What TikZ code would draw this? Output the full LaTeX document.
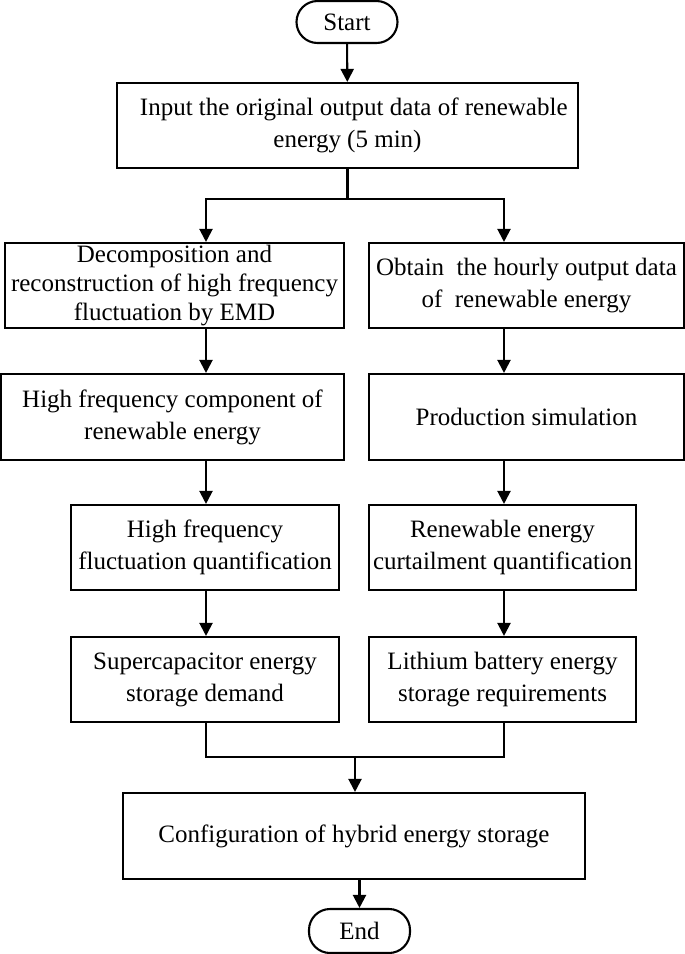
\documentclass[tikz,border=0pt]{standalone}
\usepackage{fontspec}
\setmainfont{Liberation Serif}
\usetikzlibrary{arrows.meta, positioning, calc}

\begin{document}
\begin{tikzpicture}[x=1pt, y=-1pt,
    box/.style={rectangle, draw=black, line width=2.1pt, fill=white, inner sep=0pt,
                align=center, font=\fontsize{25}{32}\selectfont},
    term/.style={box, rounded corners=21pt, minimum width=101pt, minimum height=42pt},
    arrow/.style={-{Triangle[length=13pt,width=13pt]}, line width=2.1pt},
    line/.style={line width=2.1pt}
]
    \useasboundingbox (0,0) rectangle (685,954);

    % Start and input
    \node[term] (start) at (347,22) {Start};
    \node[box, minimum width=461pt, minimum height=85pt] (input) at (347.5,125.5)
        {\ \ Input the original output data of renewable\\energy (5 min)};

    % Left branch
    \node[box, minimum width=339pt, minimum height=85pt, font=\fontsize{25}{29}\selectfont]
        (decomp) at (174.5,285.5)
        {Decomposition and\\reconstruction of high frequency\\fluctuation by EMD};
    \node[box, minimum width=343pt, minimum height=86pt] (hfcomp) at (172.5,417)
        {High frequency component of\\renewable energy};
    \node[box, minimum width=268pt, minimum height=85pt] (hfquant) at (205,547.5)
        {High frequency\\fluctuation quantification};
    \node[box, minimum width=268pt, minimum height=85pt] (supercap) at (205,679.5)
        {Supercapacitor energy\\storage demand};

    % Right branch
    \node[box, minimum width=315pt, minimum height=85pt] (hourly) at (526.5,285.5)
        {Obtain\ \ the hourly output data\\of\ \ renewable energy};
    \node[box, minimum width=315pt, minimum height=86pt] (prodsim) at (526.5,417)
        {Production simulation};
    \node[box, minimum width=267pt, minimum height=85pt] (curtail) at (502.5,547.5)
        {Renewable energy\\curtailment quantification};
    \node[box, minimum width=267pt, minimum height=85pt] (lithium) at (502.5,679.5)
        {Lithium battery energy\\storage requirements};

    % Merge and end
    \node[box, minimum width=462pt, minimum height=86pt] (config) at (354,836)
        {Configuration of hybrid energy storage};
    \node[term, minimum height=44pt] (stop) at (359.5,931) {End};

    % Helper points for the connectors
    \coordinate (split) at (347.5,199);
    \coordinate (lcol) at (206,0);
    \coordinate (rcol) at (504,0);
    \coordinate (merge) at (355,757);

    % Connectors
    \draw[arrow] (start) -- (input);
    \draw[line] (input.south) -- (split);
    \draw[arrow] (split) -| (decomp.north -| lcol);
    \draw[arrow] (split) -| (hourly.north -| rcol);
    \draw[arrow] (decomp.south -| lcol) -- (hfcomp.north -| lcol);
    \draw[arrow] (hfcomp.south -| lcol) -- (hfquant.north -| lcol);
    \draw[arrow] (hfquant.south -| lcol) -- (supercap.north -| lcol);
    \draw[arrow] (hourly.south -| rcol) -- (prodsim.north -| rcol);
    \draw[arrow] (prodsim.south -| rcol) -- (curtail.north -| rcol);
    \draw[arrow] (curtail.south -| rcol) -- (lithium.north -| rcol);
    \draw[line] (supercap.south -| lcol) |- (merge) -| (lithium.south -| rcol);
    \draw[arrow] (merge) -- (config.north -| merge);
    \draw[arrow] (config.south -| stop) -- (stop);
\end{tikzpicture}
\end{document}
